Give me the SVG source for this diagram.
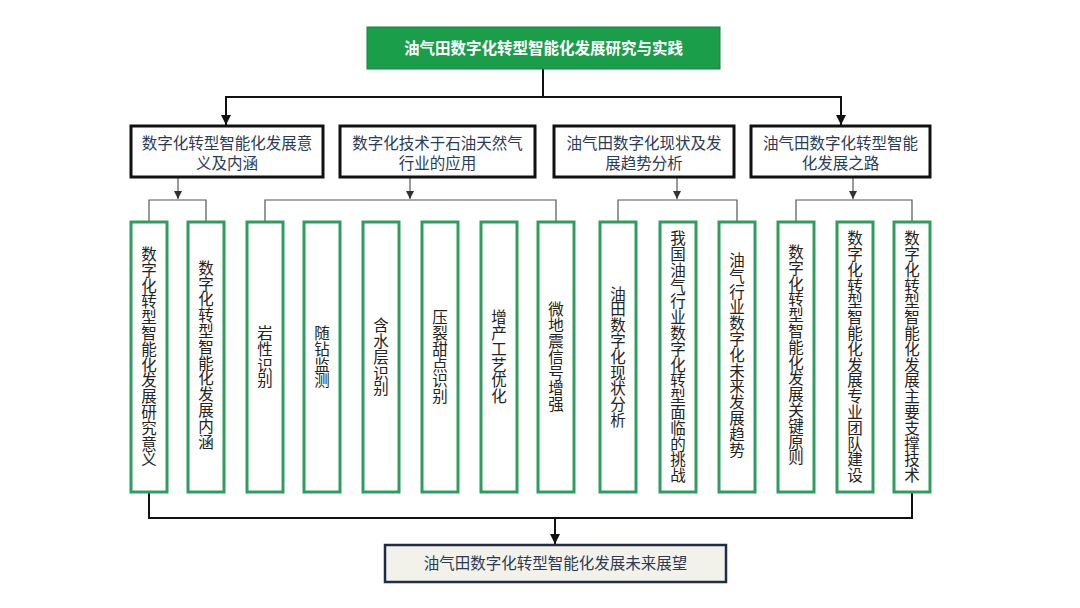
<svg xmlns="http://www.w3.org/2000/svg" width="1080" height="608" viewBox="0 0 1080 608">
<defs>
<style>
.cjk{font-family:"Noto Sans CJK SC","Liberation Sans",sans-serif;}
.title{fill:#1a9e4a;stroke:#17823d;stroke-width:1;}
.titletext{fill:#ffffff;font-size:15.5px;font-weight:bold;text-anchor:middle;}
.sec{fill:#ffffff;stroke:#111111;stroke-width:3;}
.sectext{fill:#2a3a58;font-size:15.5px;text-anchor:middle;}
.leaf{fill:#ffffff;stroke:#2e9e5e;stroke-width:3;}
.leaftext{fill:#222222;font-size:15.5px;text-anchor:middle;writing-mode:vertical-rl;letter-spacing:0.3px;}
.end{fill:#f3f2ea;stroke:#1f2b47;stroke-width:2.5;}
.endtext{fill:#2a3a58;font-size:15.5px;text-anchor:middle;}
.main{fill:none;stroke:#111111;stroke-width:2;}
.thin{fill:none;stroke:#555555;stroke-width:1.2;}
</style>
<marker id="arr" viewBox="0 0 10 10" refX="10" refY="5" markerWidth="5" markerHeight="5" orient="auto" markerUnits="strokeWidth">
<path d="M0,0 L10,5 L0,10 z" fill="#111111"/>
</marker>
<marker id="arrs" viewBox="0 0 10 10" refX="10" refY="5" markerWidth="7" markerHeight="7" orient="auto" markerUnits="strokeWidth">
<path d="M0,0 L10,5 L0,10 z" fill="#333333"/>
</marker>
</defs>
<rect width="1080" height="608" fill="#ffffff"/>

<g id="connectors">
<path class="main" d="M543,69 V97 H226 V125" marker-end="url(#arr)"/>
<path class="main" d="M543,97 H841 V125" marker-end="url(#arr)"/>
<path class="thin" d="M178,177 V199" marker-end="url(#arrs)"/>
<path class="thin" d="M410,177 V199" marker-end="url(#arrs)"/>
<path class="thin" d="M677,177 V199" marker-end="url(#arrs)"/>
<path class="thin" d="M853,177 V199" marker-end="url(#arrs)"/>
<path class="thin" d="M149,221 V200 H206 V221"/>
<path class="thin" d="M265,221 V200 H556 V221"/>
<path class="thin" d="M618,221 V200 H737 V221"/>
<path class="thin" d="M796,221 V200 H912 V221"/>
<path class="main" d="M149,492 V518 H912 V492"/>
<path class="main" d="M555,518 V544" marker-end="url(#arr)"/>
</g>

<g id="root" class="cjk">
<rect class="title" x="367" y="27" width="353" height="42"/>
<text class="titletext" x="543.5" y="53.5">油气田数字化转型智能化发展研究与实践</text>
</g>

<g id="sec1" class="cjk">
<rect class="sec" x="131" y="126" width="192" height="51"/>
<text class="sectext" x="227" y="148.5">数字化转型智能化发展意</text>
<text class="sectext" x="227" y="168.5">义及内涵</text>
</g>
<g id="sec2" class="cjk">
<rect class="sec" x="340" y="126" width="195" height="51"/>
<text class="sectext" x="437.5" y="148.5">数字化技术于石油天然气</text>
<text class="sectext" x="437.5" y="168.5">行业的应用</text>
</g>
<g id="sec3" class="cjk">
<rect class="sec" x="554" y="126" width="180" height="51"/>
<text class="sectext" x="644" y="148.5">油气田数字化现状及发</text>
<text class="sectext" x="644" y="168.5">展趋势分析</text>
</g>
<g id="sec4" class="cjk">
<rect class="sec" x="751" y="126" width="179" height="51"/>
<text class="sectext" x="840.5" y="148.5">油气田数字化转型智能</text>
<text class="sectext" x="840.5" y="168.5">化发展之路</text>
</g>

<g id="leaf1" class="cjk"><rect class="leaf" x="131" y="222" width="36" height="270"/><text class="leaftext" x="149" y="357">数字化转型智能化发展研究意义</text></g>
<g id="leaf2" class="cjk"><rect class="leaf" x="188" y="222" width="36" height="270"/><text class="leaftext" x="206" y="355">数字化转型智能化发展内涵</text></g>
<g id="leaf3" class="cjk"><rect class="leaf" x="247" y="222" width="36" height="270"/><text class="leaftext" x="265" y="357">岩性识别</text></g>
<g id="leaf4" class="cjk"><rect class="leaf" x="304" y="222" width="36" height="270"/><text class="leaftext" x="322" y="357">随钻监测</text></g>
<g id="leaf5" class="cjk"><rect class="leaf" x="363" y="222" width="36" height="270"/><text class="leaftext" x="381" y="357">含水层识别</text></g>
<g id="leaf6" class="cjk"><rect class="leaf" x="422" y="222" width="36" height="270"/><text class="leaftext" x="440" y="357">压裂甜点识别</text></g>
<g id="leaf7" class="cjk"><rect class="leaf" x="481" y="222" width="36" height="270"/><text class="leaftext" x="499" y="357">增产工艺优化</text></g>
<g id="leaf8" class="cjk"><rect class="leaf" x="538" y="222" width="36" height="270"/><text class="leaftext" x="556" y="357">微地震信号增强</text></g>
<g id="leaf9" class="cjk"><rect class="leaf" x="600" y="222" width="36" height="270"/><text class="leaftext" x="618" y="357">油田数字化现状分析</text></g>
<g id="leaf10" class="cjk"><rect class="leaf" x="660" y="222" width="36" height="270"/><text class="leaftext" x="678" y="357">我国油气行业数字化转型面临的挑战</text></g>
<g id="leaf11" class="cjk"><rect class="leaf" x="719" y="222" width="36" height="270"/><text class="leaftext" x="737" y="355">油气行业数字化未来发展趋势</text></g>
<g id="leaf12" class="cjk"><rect class="leaf" x="778" y="222" width="36" height="270"/><text class="leaftext" x="796" y="355">数字化转型智能化发展关键原则</text></g>
<g id="leaf13" class="cjk"><rect class="leaf" x="837" y="222" width="36" height="270"/><text class="leaftext" x="855" y="357">数字化转型智能化发展专业团队建设</text></g>
<g id="leaf14" class="cjk"><rect class="leaf" x="894" y="222" width="36" height="270"/><text class="leaftext" x="912" y="357">数字化转型智能化发展主要支撑技术</text></g>

<g id="outlook" class="cjk">
<rect class="end" x="385" y="545" width="341" height="37"/>
<text class="endtext" x="555.5" y="569">油气田数字化转型智能化发展未来展望</text>
</g>
</svg>
